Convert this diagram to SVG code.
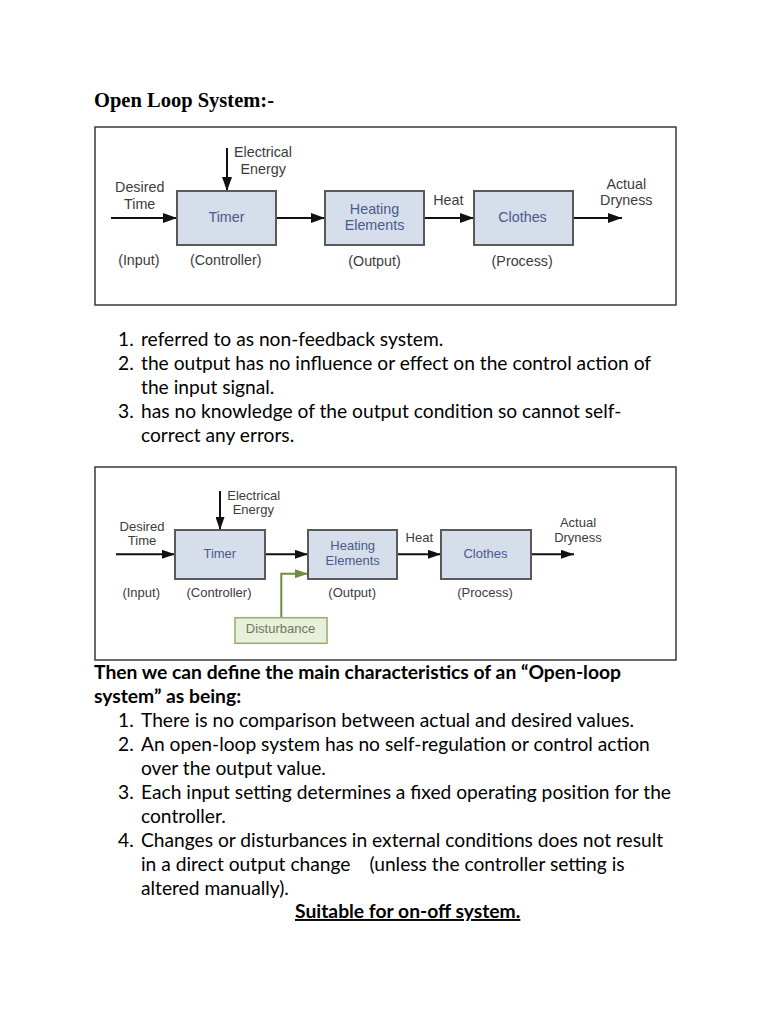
<svg xmlns="http://www.w3.org/2000/svg" width="768" height="1024" viewBox="0 0 768 1024">
<defs>
<marker id="ah" markerUnits="userSpaceOnUse" markerWidth="14" markerHeight="10" refX="14" refY="5" orient="auto"><path d="M0,0 L14,5 L0,10 Z" fill="#111"/></marker>
<marker id="ahs" markerUnits="userSpaceOnUse" markerWidth="13" markerHeight="9" refX="13" refY="4.5" orient="auto"><path d="M0,0 L13,4.5 L0,9 Z" fill="#111"/></marker>
<marker id="ahg" markerUnits="userSpaceOnUse" markerWidth="13" markerHeight="9" refX="13" refY="4.5" orient="auto"><path d="M0,0 L13,4.5 L0,9 Z" fill="#6e8e3c"/></marker>
</defs>
<style>
.title{font-family:"Liberation Serif",serif;font-weight:bold;font-size:20.5px;fill:#000}
.frame{fill:none;stroke:#3a3a3a;stroke-width:1.5}
.node{fill:#d5deea;stroke:#595959;stroke-width:2}
.lbl{font-family:"Liberation Sans",Arial,sans-serif;fill:#3c3c3c}
.nt{font-family:"Liberation Sans",Arial,sans-serif;fill:#4a5a8a}
.d1{font-size:14.3px}
.d2{font-size:13px}
.c{text-anchor:middle}
.conn{stroke:#111;stroke-width:2;fill:none}
.gconn{stroke:#6e8e3c;stroke-width:2;fill:none}
.dist{fill:#e8f0db;stroke:#93ae66;stroke-width:1.5}
.dt{font-family:"Liberation Sans",Arial,sans-serif;font-size:13px;fill:#6b7a52;text-anchor:middle}
.body{font-family:Lato,"Noto Sans",sans-serif;font-size:19.2px;fill:#000}
.b{font-weight:bold;font-size:19.3px}
</style>
<rect width="768" height="1024" fill="#fff"/>
<text class="title" x="94" y="107">Open Loop System:-</text>

<!-- Diagram 1 -->
<rect class="frame" x="95" y="127" width="581" height="178"/>
<g id="d1-connectors">
<line class="conn" x1="111" y1="218" x2="177" y2="218" marker-end="url(#ah)"/>
<line class="conn" x1="227" y1="148" x2="227" y2="191" marker-end="url(#ah)"/>
<line class="conn" x1="276" y1="218" x2="325" y2="218" marker-end="url(#ah)"/>
<line class="conn" x1="424" y1="218" x2="474" y2="218" marker-end="url(#ah)"/>
<line class="conn" x1="573" y1="218" x2="622" y2="218" marker-end="url(#ah)"/>
</g>
<g id="d1-timer"><rect class="node" x="177" y="191" width="99" height="54"/><text class="nt d1 c" x="226.5" y="222">Timer</text></g>
<g id="d1-heating"><rect class="node" x="325" y="191" width="99" height="54"/><text class="nt d1 c" x="374.5" y="213.5">Heating</text><text class="nt d1 c" x="374.5" y="229.5">Elements</text></g>
<g id="d1-clothes"><rect class="node" x="474" y="191" width="99" height="54"/><text class="nt d1 c" x="522.5" y="222">Clothes</text></g>
<g id="d1-labels">
<text class="lbl d1" x="234" y="157">Electrical</text>
<text class="lbl d1" x="240.5" y="173.5">Energy</text>
<text class="lbl d1 c" x="139.7" y="192">Desired</text>
<text class="lbl d1 c" x="139.7" y="208.5">Time</text>
<text class="lbl d1 c" x="448.3" y="204.5">Heat</text>
<text class="lbl d1 c" x="626.3" y="188.5">Actual</text>
<text class="lbl d1 c" x="626.3" y="204.5">Dryness</text>
<text class="lbl d1 c" x="138.8" y="265">(Input)</text>
<text class="lbl d1 c" x="225.7" y="265">(Controller)</text>
<text class="lbl d1 c" x="374.5" y="266">(Output)</text>
<text class="lbl d1 c" x="522.2" y="266">(Process)</text>
</g>

<!-- List 1 -->
<g id="list1">
<text class="body" x="118" y="346">1.</text><text class="body" x="141" y="346">referred to as non-feedback system.</text>
<text class="body" x="118" y="370">2.</text><text class="body" x="141" y="370">the output has no influence or effect on the control action of</text>
<text class="body" x="141" y="394">the input signal.</text>
<text class="body" x="118" y="418">3.</text><text class="body" x="141" y="418">has no knowledge of the output condition so cannot self-</text>
<text class="body" x="141" y="442">correct any errors.</text>
</g>

<!-- Diagram 2 -->
<rect class="frame" x="95" y="467" width="581" height="193"/>
<g id="d2-connectors">
<line class="conn" x1="116" y1="554.3" x2="175" y2="554.3" marker-end="url(#ahs)"/>
<line class="conn" x1="220" y1="491" x2="220" y2="530" marker-end="url(#ahs)"/>
<line class="conn" x1="265" y1="554.3" x2="308" y2="554.3" marker-end="url(#ahs)"/>
<line class="conn" x1="397" y1="554.3" x2="441" y2="554.3" marker-end="url(#ahs)"/>
<line class="conn" x1="531" y1="554.3" x2="574" y2="554.3" marker-end="url(#ahs)"/>
<polyline class="gconn" points="281.3,617.7 281.3,573.7 308,573.7" marker-end="url(#ahg)"/>
</g>
<g id="d2-timer"><rect class="node" x="175" y="530" width="90" height="49"/><text class="nt d2 c" x="219.8" y="557.7">Timer</text></g>
<g id="d2-heating"><rect class="node" x="308" y="530" width="89" height="49"/><text class="nt d2 c" x="352.7" y="550">Heating</text><text class="nt d2 c" x="352.7" y="564.7">Elements</text></g>
<g id="d2-clothes"><rect class="node" x="441" y="530" width="90" height="49"/><text class="nt d2 c" x="485.5" y="558">Clothes</text></g>
<g id="d2-disturbance"><rect class="dist" x="235" y="617.7" width="92" height="25.6"/><text class="dt" x="280.5" y="633">Disturbance</text></g>
<g id="d2-labels">
<text class="lbl d2" x="227.3" y="499.5">Electrical</text>
<text class="lbl d2" x="232.7" y="514">Energy</text>
<text class="lbl d2 c" x="142" y="531">Desired</text>
<text class="lbl d2 c" x="142" y="545">Time</text>
<text class="lbl d2 c" x="419.3" y="542">Heat</text>
<text class="lbl d2 c" x="578" y="527">Actual</text>
<text class="lbl d2 c" x="578" y="542">Dryness</text>
<text class="lbl d2 c" x="141.2" y="597">(Input)</text>
<text class="lbl d2 c" x="219" y="597">(Controller)</text>
<text class="lbl d2 c" x="352.2" y="597">(Output)</text>
<text class="lbl d2 c" x="485" y="597">(Process)</text>
</g>

<!-- List 2 -->
<g id="list2">
<text class="body b" x="94" y="679">Then we can define the main characteristics of an “Open-loop</text>
<text class="body b" x="94" y="703">system” as being:</text>
<text class="body" x="118" y="727">1.</text><text class="body" x="141" y="727">There is no comparison between actual and desired values.</text>
<text class="body" x="118" y="751">2.</text><text class="body" x="141" y="751">An open-loop system has no self-regulation or control action</text>
<text class="body" x="141" y="775">over the output value.</text>
<text class="body" x="118" y="799">3.</text><text class="body" x="141" y="799">Each input setting determines a fixed operating position for the</text>
<text class="body" x="141" y="823">controller.</text>
<text class="body" x="118" y="847">4.</text><text class="body" x="141" y="847">Changes or disturbances in external conditions does not result</text>
<text class="body" x="141" y="871">in a direct output change</text><text class="body" x="369.5" y="871">(unless the controller setting is</text>
<text class="body" x="141" y="895">altered manually).</text>
<text class="body b" x="295" y="918" text-decoration="underline">Suitable for on-off system.</text>
</g>
</svg>
